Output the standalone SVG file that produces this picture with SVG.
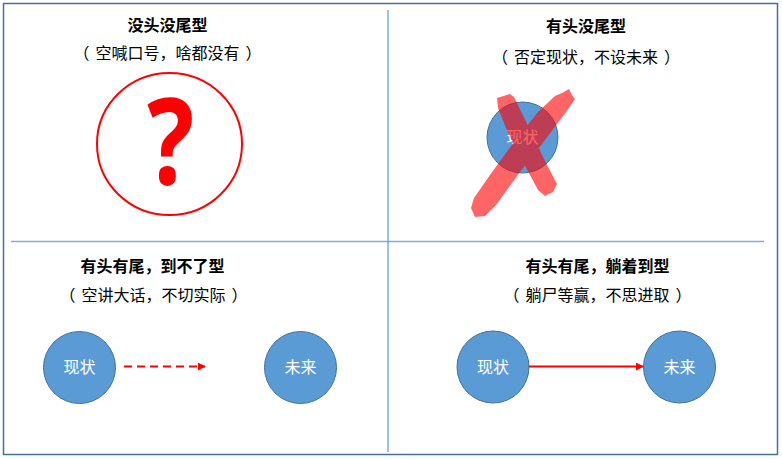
<svg xmlns="http://www.w3.org/2000/svg" width="782" height="459" viewBox="0 0 782 459">
<defs>
<style>
.title{font-family:"Noto Sans CJK SC","Microsoft YaHei",sans-serif;font-size:16px;font-weight:bold;fill:#000;text-anchor:middle}
.sub{font-family:"Noto Sans CJK SC","Microsoft YaHei",sans-serif;font-size:16px;fill:#000;text-anchor:middle}
.node{fill:#5b9bd5;stroke:#41719c;stroke-width:1}
.ntext{font-family:"Noto Sans CJK SC","Microsoft YaHei",sans-serif;font-size:16px;fill:#fff;text-anchor:middle}
.grid{stroke:#5b9bd5;stroke-width:1.5;opacity:0.8}
</style>
<marker id="arrow" viewBox="0 0 10 10" refX="9" refY="5" markerWidth="4" markerHeight="4" orient="auto" markerUnits="strokeWidth">
<path d="M0,0 L10,5 L0,10 z" fill="#ff0000"/>
</marker>
</defs>
<rect x="0" y="0" width="782" height="459" fill="#fff"/>
<rect x="3.5" y="3.5" width="774" height="451" fill="none" stroke="#41719c" stroke-width="1.5"/>
<g id="grid">
<line class="grid" x1="388" y1="10" x2="388" y2="452"/>
<line class="grid" x1="11" y1="241.5" x2="764" y2="241.5"/>
</g>
<g id="q1">
<text class="title" x="167.5" y="31">没头没尾型</text>
<text class="sub" x="167.5" y="59">（<tspan dx="6">空喊口号，啥都没有</tspan><tspan dx="6">）</tspan></text>
<ellipse cx="169.5" cy="144" rx="72.5" ry="71" fill="none" stroke="#ff0000" stroke-width="2"/>
<text x="0" y="0" transform="translate(170.5,184) scale(0.82,1)" font-family="Noto Sans, sans-serif" font-size="120" font-weight="bold" fill="#ff0000" text-anchor="middle">?</text>
</g>
<g id="q2">
<text class="title" x="586" y="32">有头没尾型</text>
<text class="sub" x="586" y="63">（<tspan dx="6">否定现状，不设未来</tspan><tspan dx="6">）</tspan></text>
<g id="n-xz-top">
<circle class="node" cx="522.5" cy="137.5" r="35.5"/>
<text class="ntext" x="522.5" y="143">现状</text>
</g>
<g id="cross" opacity="0.6" fill="#ff0000">
<path d="M497,98 L510,94 L514,97 L530,130 L547,165 L557,184 L553,192 L545,196 L538,190 L522,160 L506,128 L498,108 z"/>
<path d="M562,93 L569,89 L572,95 L575,99 L566,112 L545,140 L520,172 L496,205 L485,216 L475,217 L471,208 L474,198 L490,175 L514,142 L538,112 L555,96 z"/>
</g>
</g>
<g id="q3">
<text class="title" x="152.5" y="272">有头有尾，到不了型</text>
<text class="sub" x="153.5" y="301">（<tspan dx="6">空讲大话，不切实际</tspan><tspan dx="6">）</tspan></text>
<g id="n-xz-bl">
<circle class="node" cx="79.5" cy="367.5" r="36"/>
<text class="ntext" x="79.5" y="373">现状</text>
</g>
<g id="n-wl-bl">
<circle class="node" cx="300.5" cy="367.5" r="36"/>
<text class="ntext" x="300.5" y="373">未来</text>
</g>
</g>
<g id="q4">
<text class="title" x="597.5" y="272">有头有尾，躺着到型</text>
<text class="sub" x="597.5" y="301">（<tspan dx="6">躺尸等赢，不思进取</tspan><tspan dx="6">）</tspan></text>
<g id="n-xz-br">
<circle class="node" cx="493" cy="367" r="36"/>
<text class="ntext" x="493" y="373">现状</text>
</g>
<g id="n-wl-br">
<circle class="node" cx="679.5" cy="367" r="36"/>
<text class="ntext" x="679.5" y="373">未来</text>
</g>
</g>
<g id="connectors">
<line x1="124" y1="366.5" x2="205" y2="366.5" stroke="#ff0000" stroke-width="2" stroke-dasharray="8,5" marker-end="url(#arrow)"/>
<line x1="529" y1="366.5" x2="643" y2="366.5" stroke="#ff0000" stroke-width="2" marker-end="url(#arrow)"/>
</g>
</svg>
